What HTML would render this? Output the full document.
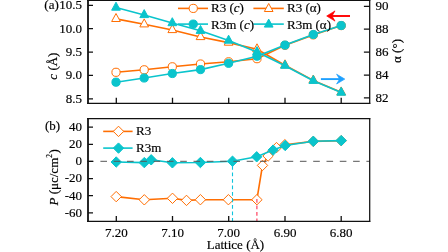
<!DOCTYPE html>
<html><head><meta charset="utf-8"><title>chart</title>
<style>html,body{margin:0;padding:0;background:#fff}body{width:448px;height:252px;overflow:hidden}
svg{display:block}text{font-family:"Liberation Serif",serif;font-size:13px;fill:#000;stroke:#000;stroke-width:0.17px}</style></head>
<body><svg width="448" height="252" viewBox="0 0 448 252">
<rect width="448" height="252" fill="#fff"/>
<polyline fill="none" stroke="#ff6e02" stroke-width="1.6" stroke-linejoin="round" points="116.00,18.90 144.20,24.30 172.30,30.00 200.50,37.00 228.60,42.60 257.00,49.20 285.00,65.20 313.30,80.40 341.20,92.30"/>
<polyline fill="none" stroke="#ff6e02" stroke-width="1.6" stroke-linejoin="round" points="116.00,72.30 144.20,69.80 172.30,66.80 200.50,64.00 228.60,61.80 257.00,58.70 285.00,45.30 313.30,34.90 341.20,25.60"/>
<polygon points="116.00,13.50 111.65,21.50 120.35,21.50" fill="#fff" stroke="#ff6e02" stroke-width="1" stroke-linejoin="miter"/>
<polygon points="144.20,18.90 139.85,26.90 148.55,26.90" fill="#fff" stroke="#ff6e02" stroke-width="1" stroke-linejoin="miter"/>
<polygon points="172.30,24.60 167.95,32.60 176.65,32.60" fill="#fff" stroke="#ff6e02" stroke-width="1" stroke-linejoin="miter"/>
<polygon points="200.50,31.60 196.15,39.60 204.85,39.60" fill="#fff" stroke="#ff6e02" stroke-width="1" stroke-linejoin="miter"/>
<polygon points="228.60,37.20 224.25,45.20 232.95,45.20" fill="#fff" stroke="#ff6e02" stroke-width="1" stroke-linejoin="miter"/>
<polygon points="257.00,43.80 252.65,51.80 261.35,51.80" fill="#fff" stroke="#ff6e02" stroke-width="1" stroke-linejoin="miter"/>
<polygon points="285.00,59.80 280.65,67.80 289.35,67.80" fill="#fff" stroke="#ff6e02" stroke-width="1" stroke-linejoin="miter"/>
<polygon points="313.30,75.00 308.95,83.00 317.65,83.00" fill="#fff" stroke="#ff6e02" stroke-width="1" stroke-linejoin="miter"/>
<polygon points="341.20,86.90 336.85,94.90 345.55,94.90" fill="#fff" stroke="#ff6e02" stroke-width="1" stroke-linejoin="miter"/>
<circle cx="116.00" cy="72.30" r="4.1" fill="#fff" stroke="#ff6e02" stroke-width="1"/>
<circle cx="144.20" cy="69.80" r="4.1" fill="#fff" stroke="#ff6e02" stroke-width="1"/>
<circle cx="172.30" cy="66.80" r="4.1" fill="#fff" stroke="#ff6e02" stroke-width="1"/>
<circle cx="200.50" cy="64.00" r="4.1" fill="#fff" stroke="#ff6e02" stroke-width="1"/>
<circle cx="228.60" cy="61.80" r="4.1" fill="#fff" stroke="#ff6e02" stroke-width="1"/>
<circle cx="257.00" cy="58.70" r="4.1" fill="#fff" stroke="#ff6e02" stroke-width="1"/>
<circle cx="285.00" cy="45.30" r="4.1" fill="#fff" stroke="#ff6e02" stroke-width="1"/>
<circle cx="313.30" cy="34.90" r="4.1" fill="#fff" stroke="#ff6e02" stroke-width="1"/>
<circle cx="341.20" cy="25.60" r="4.1" fill="#fff" stroke="#ff6e02" stroke-width="1"/>
<polyline fill="none" stroke="#0ac4cc" stroke-width="1.6" stroke-linejoin="round" points="116.00,7.60 144.20,15.00 172.30,23.10 200.50,30.80 228.60,40.60 257.00,52.00 285.00,65.70 313.30,80.80 341.20,92.60"/>
<polyline fill="none" stroke="#0ac4cc" stroke-width="1.6" stroke-linejoin="round" points="116.00,82.20 144.20,78.00 172.30,73.50 200.50,69.60 228.60,63.30 257.00,56.20 285.00,45.10 313.30,34.50 341.20,25.50"/>
<polygon points="116.00,2.20 111.65,10.20 120.35,10.20" fill="#0ac4cc" stroke="#0ac4cc" stroke-width="1" stroke-linejoin="miter"/>
<polygon points="144.20,9.60 139.85,17.60 148.55,17.60" fill="#0ac4cc" stroke="#0ac4cc" stroke-width="1" stroke-linejoin="miter"/>
<polygon points="172.30,17.70 167.95,25.70 176.65,25.70" fill="#0ac4cc" stroke="#0ac4cc" stroke-width="1" stroke-linejoin="miter"/>
<polygon points="200.50,25.40 196.15,33.40 204.85,33.40" fill="#0ac4cc" stroke="#0ac4cc" stroke-width="1" stroke-linejoin="miter"/>
<polygon points="228.60,35.20 224.25,43.20 232.95,43.20" fill="#0ac4cc" stroke="#0ac4cc" stroke-width="1" stroke-linejoin="miter"/>
<polygon points="257.00,46.60 252.65,54.60 261.35,54.60" fill="#0ac4cc" stroke="#0ac4cc" stroke-width="1" stroke-linejoin="miter"/>
<polygon points="285.00,60.30 280.65,68.30 289.35,68.30" fill="#0ac4cc" stroke="#0ac4cc" stroke-width="1" stroke-linejoin="miter"/>
<polygon points="313.30,75.40 308.95,83.40 317.65,83.40" fill="#0ac4cc" stroke="#0ac4cc" stroke-width="1" stroke-linejoin="miter"/>
<polygon points="341.20,87.20 336.85,95.20 345.55,95.20" fill="#0ac4cc" stroke="#0ac4cc" stroke-width="1" stroke-linejoin="miter"/>
<circle cx="116.00" cy="82.20" r="4.1" fill="#0ac4cc" stroke="#0ac4cc" stroke-width="1"/>
<circle cx="144.20" cy="78.00" r="4.1" fill="#0ac4cc" stroke="#0ac4cc" stroke-width="1"/>
<circle cx="172.30" cy="73.50" r="4.1" fill="#0ac4cc" stroke="#0ac4cc" stroke-width="1"/>
<circle cx="200.50" cy="69.60" r="4.1" fill="#0ac4cc" stroke="#0ac4cc" stroke-width="1"/>
<circle cx="228.60" cy="63.30" r="4.1" fill="#0ac4cc" stroke="#0ac4cc" stroke-width="1"/>
<circle cx="257.00" cy="56.20" r="4.1" fill="#0ac4cc" stroke="#0ac4cc" stroke-width="1"/>
<circle cx="285.00" cy="45.10" r="4.1" fill="#0ac4cc" stroke="#0ac4cc" stroke-width="1"/>
<circle cx="313.30" cy="34.50" r="4.1" fill="#0ac4cc" stroke="#0ac4cc" stroke-width="1"/>
<circle cx="341.20" cy="25.50" r="4.1" fill="#0ac4cc" stroke="#0ac4cc" stroke-width="1"/>
<path d="M88.0 -0.35000000000000003V103.95" stroke="#111" stroke-width="1.8" fill="none"/>
<path d="M369.7 -0.35000000000000003V103.95" stroke="#111" stroke-width="1.25" fill="none"/>
<path d="M87.1 0.3H370.3 M87.1 103.3H370.3" stroke="#111" stroke-width="1.3" fill="none"/>
<path d="M88.0 5.27H93.0M88.0 28.67H93.0M88.0 52.06H93.0M88.0 75.46H93.0M88.0 98.86H93.0" stroke="#111" stroke-width="1.25" fill="none"/>
<path d="M369.7 6.35H363.9M369.7 29.24H363.9M369.7 52.1H363.9M369.7 75.0H363.9M369.7 97.9H363.9" stroke="#111" stroke-width="1.25" fill="none"/>
<path d="M116.3 103.3V97.8M172.5 103.3V97.8M228.7 103.3V97.8M285 103.3V97.8M341.2 103.3V97.8" stroke="#111" stroke-width="1.3" fill="none"/>
<polyline fill="none" stroke="#ff6e02" stroke-width="1.6" stroke-linejoin="round" points="116.20,196.60 144.30,199.80 172.50,198.30 186.50,200.40 200.40,199.70 228.40,199.70 256.90,199.70 262.50,165.40 268.10,156.00 276.50,147.60 284.90,144.70 313.30,141.40 341.20,140.70"/>
<polygon points="116.20,191.40 121.40,196.60 116.20,201.80 111.00,196.60" fill="#fff" stroke="#ff6e02" stroke-width="1"/>
<polygon points="144.30,194.60 149.50,199.80 144.30,205.00 139.10,199.80" fill="#fff" stroke="#ff6e02" stroke-width="1"/>
<polygon points="172.50,193.10 177.70,198.30 172.50,203.50 167.30,198.30" fill="#fff" stroke="#ff6e02" stroke-width="1"/>
<polygon points="186.50,195.20 191.70,200.40 186.50,205.60 181.30,200.40" fill="#fff" stroke="#ff6e02" stroke-width="1"/>
<polygon points="200.40,194.50 205.60,199.70 200.40,204.90 195.20,199.70" fill="#fff" stroke="#ff6e02" stroke-width="1"/>
<polygon points="228.40,194.50 233.60,199.70 228.40,204.90 223.20,199.70" fill="#fff" stroke="#ff6e02" stroke-width="1"/>
<polygon points="256.90,194.50 262.10,199.70 256.90,204.90 251.70,199.70" fill="#fff" stroke="#ff6e02" stroke-width="1"/>
<polygon points="262.50,160.20 267.70,165.40 262.50,170.60 257.30,165.40" fill="#fff" stroke="#ff6e02" stroke-width="1"/>
<polygon points="268.10,150.80 273.30,156.00 268.10,161.20 262.90,156.00" fill="#fff" stroke="#ff6e02" stroke-width="1"/>
<polygon points="276.50,142.40 281.70,147.60 276.50,152.80 271.30,147.60" fill="#fff" stroke="#ff6e02" stroke-width="1"/>
<polygon points="284.90,139.50 290.10,144.70 284.90,149.90 279.70,144.70" fill="#fff" stroke="#ff6e02" stroke-width="1"/>
<polygon points="313.30,136.20 318.50,141.40 313.30,146.60 308.10,141.40" fill="#fff" stroke="#ff6e02" stroke-width="1"/>
<polygon points="341.20,135.50 346.40,140.70 341.20,145.90 336.00,140.70" fill="#fff" stroke="#ff6e02" stroke-width="1"/>
<polyline fill="none" stroke="#0ac4cc" stroke-width="1.6" stroke-linejoin="round" points="116.20,162.00 144.30,162.60 151.20,159.80 172.40,162.80 200.40,162.50 232.50,161.20 256.70,156.80 273.10,150.10 285.20,145.50 313.30,141.30 341.20,140.60"/>
<polygon points="116.20,156.80 121.40,162.00 116.20,167.20 111.00,162.00" fill="#0ac4cc" stroke="#0ac4cc" stroke-width="1"/>
<polygon points="144.30,157.40 149.50,162.60 144.30,167.80 139.10,162.60" fill="#0ac4cc" stroke="#0ac4cc" stroke-width="1"/>
<polygon points="151.20,154.60 156.40,159.80 151.20,165.00 146.00,159.80" fill="#0ac4cc" stroke="#0ac4cc" stroke-width="1"/>
<polygon points="172.40,157.60 177.60,162.80 172.40,168.00 167.20,162.80" fill="#0ac4cc" stroke="#0ac4cc" stroke-width="1"/>
<polygon points="200.40,157.30 205.60,162.50 200.40,167.70 195.20,162.50" fill="#0ac4cc" stroke="#0ac4cc" stroke-width="1"/>
<polygon points="232.50,156.00 237.70,161.20 232.50,166.40 227.30,161.20" fill="#0ac4cc" stroke="#0ac4cc" stroke-width="1"/>
<polygon points="256.70,151.60 261.90,156.80 256.70,162.00 251.50,156.80" fill="#0ac4cc" stroke="#0ac4cc" stroke-width="1"/>
<polygon points="273.10,144.90 278.30,150.10 273.10,155.30 267.90,150.10" fill="#0ac4cc" stroke="#0ac4cc" stroke-width="1"/>
<polygon points="285.20,140.30 290.40,145.50 285.20,150.70 280.00,145.50" fill="#0ac4cc" stroke="#0ac4cc" stroke-width="1"/>
<polygon points="313.30,136.10 318.50,141.30 313.30,146.50 308.10,141.30" fill="#0ac4cc" stroke="#0ac4cc" stroke-width="1"/>
<polygon points="341.20,135.40 346.40,140.60 341.20,145.80 336.00,140.60" fill="#0ac4cc" stroke="#0ac4cc" stroke-width="1"/>
<line x1="232.5" x2="232.5" y1="166" y2="221" stroke="#10c4dc" stroke-width="1.1" stroke-dasharray="3.8 2.7"/>
<line x1="256.9" x2="256.9" y1="199" y2="221" stroke="#ff3050" stroke-width="1.1" stroke-dasharray="3.8 2.7"/>
<line x1="87.1" x2="369.7" y1="161.3" y2="161.3" stroke="#555" stroke-opacity="0.8" stroke-width="1.2" stroke-dasharray="6.6 6.7"/>
<path d="M88.0 117.89999999999999V222.0" stroke="#111" stroke-width="1.8" fill="none"/>
<path d="M369.7 117.89999999999999V222.0" stroke="#111" stroke-width="1.25" fill="none"/>
<path d="M87.1 118.55H370.3 M87.1 221.35H370.3" stroke="#111" stroke-width="1.3" fill="none"/>
<path d="M88.0 127.2H93.0M88.0 144.3H93.0M88.0 161.4H93.0M88.0 178.5H93.0M88.0 195.65H93.0M88.0 212.76H93.0" stroke="#111" stroke-width="1.25" fill="none"/>
<path d="M116.3 221.35V215.9M172.5 221.35V215.9M228.7 221.35V215.9M285 221.35V215.9M341.2 221.35V215.9" stroke="#111" stroke-width="1.3" fill="none"/>
<polyline fill="none" stroke="#ff6e02" stroke-width="1.6" stroke-linejoin="round" points="178.00,8.40 208.00,8.40"/>
<circle cx="193.25" cy="8.40" r="4.1" fill="#fff" stroke="#ff6e02" stroke-width="1"/>
<polyline fill="none" stroke="#0ac4cc" stroke-width="1.6" stroke-linejoin="round" points="178.00,24.10 208.00,24.10"/>
<circle cx="193.25" cy="24.10" r="4.1" fill="#0ac4cc" stroke="#0ac4cc" stroke-width="1"/>
<polyline fill="none" stroke="#ff6e02" stroke-width="1.6" stroke-linejoin="round" points="253.40,8.40 283.80,8.40"/>
<polygon points="268.70,3.50 264.35,11.50 273.05,11.50" fill="#fff" stroke="#ff6e02" stroke-width="1" stroke-linejoin="miter"/>
<polyline fill="none" stroke="#0ac4cc" stroke-width="1.6" stroke-linejoin="round" points="253.40,24.10 283.80,24.10"/>
<polygon points="268.70,19.10 264.35,27.10 273.05,27.10" fill="#0ac4cc" stroke="#0ac4cc" stroke-width="1" stroke-linejoin="miter"/>
<polyline fill="none" stroke="#ff6e02" stroke-width="1.6" stroke-linejoin="round" points="103.20,131.40 132.60,131.40"/>
<polygon points="118.50,126.20 123.70,131.40 118.50,136.60 113.30,131.40" fill="#fff" stroke="#ff6e02" stroke-width="1"/>
<polyline fill="none" stroke="#0ac4cc" stroke-width="1.6" stroke-linejoin="round" points="103.20,148.10 132.60,148.10"/>
<polygon points="118.50,142.90 123.70,148.10 118.50,153.30 113.30,148.10" fill="#0ac4cc" stroke="#0ac4cc" stroke-width="1"/>
<path d="M350 16H330" fill="none" stroke="#ff0000" stroke-width="1.9"/>
<path d="M326.7 16L335 10.9L332 16L335 21.1Z" fill="#ff0000" stroke="#ff0000" stroke-width="0.7" stroke-linejoin="round"/>
<path d="M320.9 79.1H341" fill="none" stroke="#1ea0ff" stroke-width="1.9"/>
<path d="M344.8 79.1L336.6 74.2L339.6 79.1L336.6 84Z" fill="#1ea0ff" stroke="#1ea0ff" stroke-width="0.7" stroke-linejoin="round"/>
<text x="44.3" y="8.5" text-anchor="start" >(a)</text>
<text x="45" y="130.1" text-anchor="start" >(b)</text>
<text x="82" y="9.17" text-anchor="end" >10.5</text>
<text x="82" y="32.57" text-anchor="end" >10.0</text>
<text x="82" y="55.96" text-anchor="end" >9.5</text>
<text x="82" y="79.36" text-anchor="end" >9.0</text>
<text x="82" y="102.76" text-anchor="end" >8.5</text>
<text x="375.5" y="10.25" text-anchor="start" >90</text>
<text x="375.5" y="33.14" text-anchor="start" >88</text>
<text x="375.5" y="56.0" text-anchor="start" >86</text>
<text x="375.5" y="78.9" text-anchor="start" >84</text>
<text x="375.5" y="101.80000000000001" text-anchor="start" >82</text>
<text x="82" y="131.1" text-anchor="end" >40</text>
<text x="82" y="148.20000000000002" text-anchor="end" >20</text>
<text x="82" y="165.3" text-anchor="end" >0</text>
<text x="82" y="182.4" text-anchor="end" >-20</text>
<text x="82" y="199.55" text-anchor="end" >-40</text>
<text x="82" y="216.66" text-anchor="end" >-60</text>
<text x="116.3" y="237.3" text-anchor="middle" >7.20</text>
<text x="172.5" y="237.3" text-anchor="middle" >7.10</text>
<text x="228.7" y="237.3" text-anchor="middle" >7.00</text>
<text x="285" y="237.3" text-anchor="middle" >6.90</text>
<text x="341.2" y="237.3" text-anchor="middle" >6.80</text>
<text x="235.5" y="248.8" text-anchor="middle" >Lattice (Å)</text>
<text x="211" y="11.7" text-anchor="start" >R3 (<tspan font-style="italic">c</tspan>)</text>
<text x="211" y="28.5" text-anchor="start" >R3m (<tspan font-style="italic">c</tspan>)</text>
<text x="287" y="11.7" text-anchor="start" >R3 (α)</text>
<text x="287" y="28.5" text-anchor="start" >R3m (α)</text>
<text x="136" y="135.3" text-anchor="start" font-size="12.5">R3</text>
<text x="136" y="151.7" text-anchor="start" font-size="12.5">R3m</text>
<text transform="translate(56.8,66.1) rotate(-90)" text-anchor="middle"><tspan font-style="italic">c</tspan> (Å)</text>
<text transform="translate(57.6,177.4) rotate(-90)" text-anchor="middle"><tspan font-style="italic">P</tspan> (μc/cm<tspan font-size="7.5" dy="-5.5">2</tspan><tspan dy="5.5" dx="0.4">)</tspan></text>
<text transform="translate(401,51) rotate(-90)" text-anchor="middle">α (°)</text>
</svg></body></html>
